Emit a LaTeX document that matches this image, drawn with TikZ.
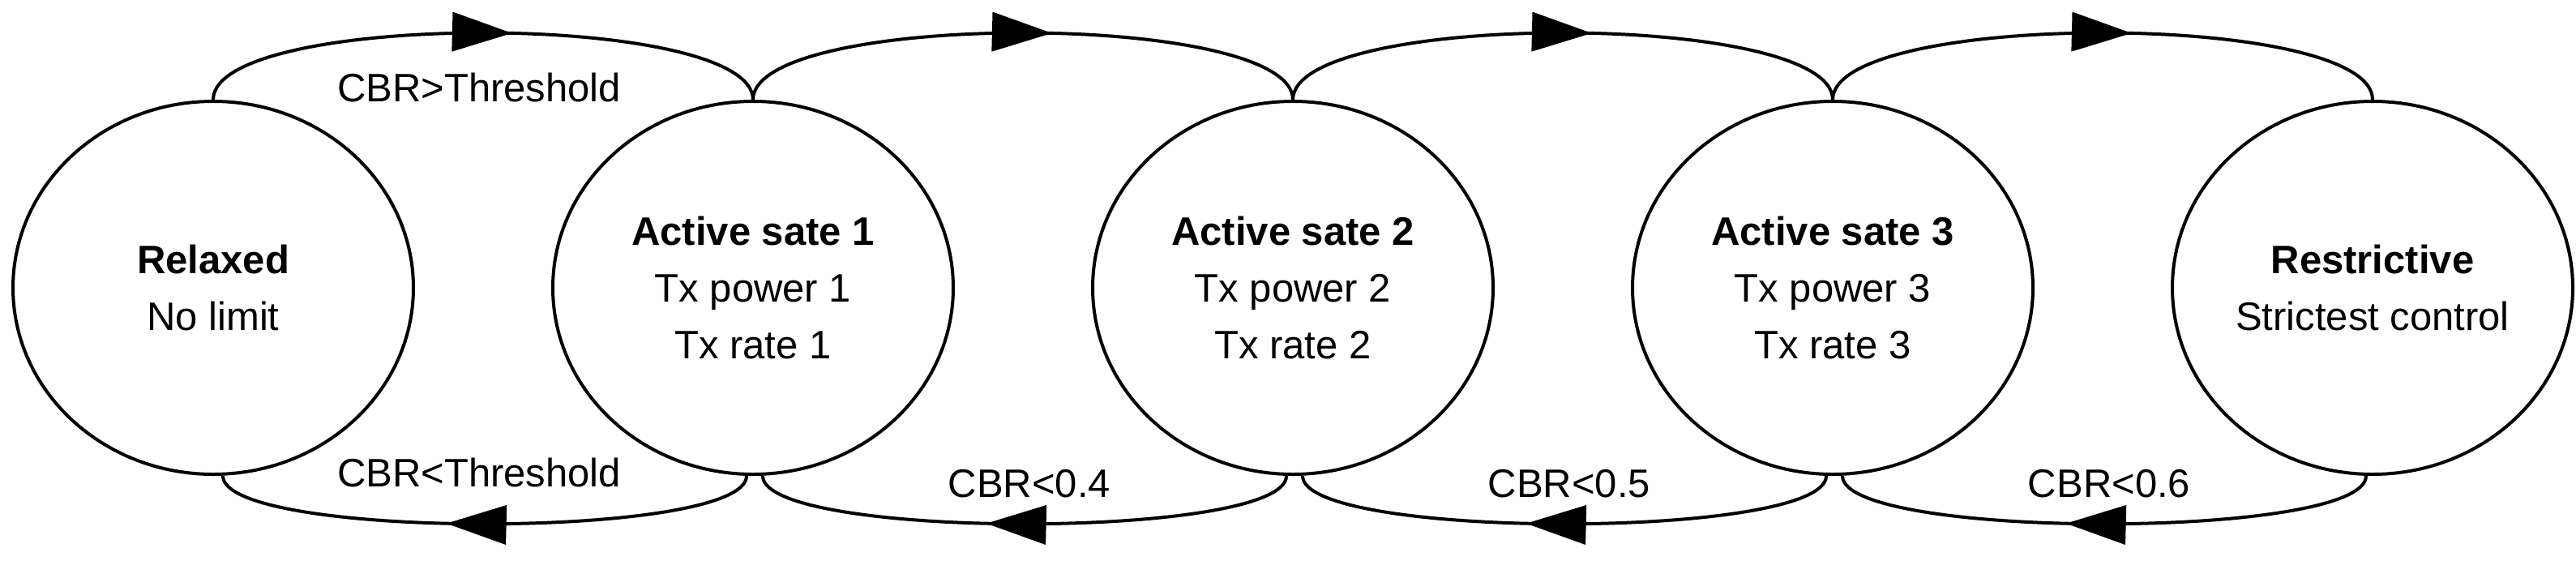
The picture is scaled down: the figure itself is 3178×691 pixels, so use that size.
\documentclass[tikz,border=0pt]{standalone}
\usepackage{fontspec}
\setmainfont{Liberation Sans}
\usetikzlibrary{shapes.geometric,arrows.meta,decorations.markings}
\begin{document}
\begin{tikzpicture}[x=0.5pt,y=-0.5pt,line width=2pt,
  st/.style={ellipse,draw,minimum width=247pt,minimum height=230pt,inner sep=0pt,align=center,font=\fontsize{24.5}{35}\selectfont},
  lbl/.style={font=\fontsize{24.5}{30}\selectfont,inner sep=0pt},
  fwd/.style={postaction={decorate},decoration={markings,mark=at position 0.55 with {\arrow{Triangle[length=37pt,width=24pt]}}}},
  bwd/.style={postaction={decorate},decoration={markings,mark=at position 0.43 with {\arrowreversed{Triangle[length=37pt,width=24pt]}}}}]
\useasboundingbox (0,0) rectangle (3178,691);
\node[st] (s0) at (263,355) {\textbf{Relaxed}\\No limit};
\node[st] (s1) at (929,355) {\textbf{Active sate 1}\\Tx power 1\\Tx rate 1};
\node[st] (s2) at (1595,355) {\textbf{Active sate 2}\\Tx power 2\\Tx rate 2};
\node[st] (s3) at (2261,355) {\textbf{Active sate 3}\\Tx power 3\\Tx rate 3};
\node[st] (s4) at (2927,355) {\textbf{Restrictive}\\Strictest control};
\foreach \a/\b in {s0/s1,s1/s2,s2/s3,s3/s4}{
  \draw[fwd] (\a.north) .. controls +(0,-110) and +(0,-110) .. (\b.north);
  \draw[bwd] ([xshift=6pt]\a.south) .. controls +(0,79) and +(0,79) .. ([xshift=-4pt]\b.south);
}
\node[lbl] (l0) at (591,108) {CBR>Threshold};
\node[lbl] (l1) at (591,583) {CBR<Threshold};
\node[lbl] (l2) at (1270,597) {CBR<0.4};
\node[lbl] (l3) at (1936,597) {CBR<0.5};
\node[lbl] (l4) at (2602,597) {CBR<0.6};
\end{tikzpicture}
\end{document}
